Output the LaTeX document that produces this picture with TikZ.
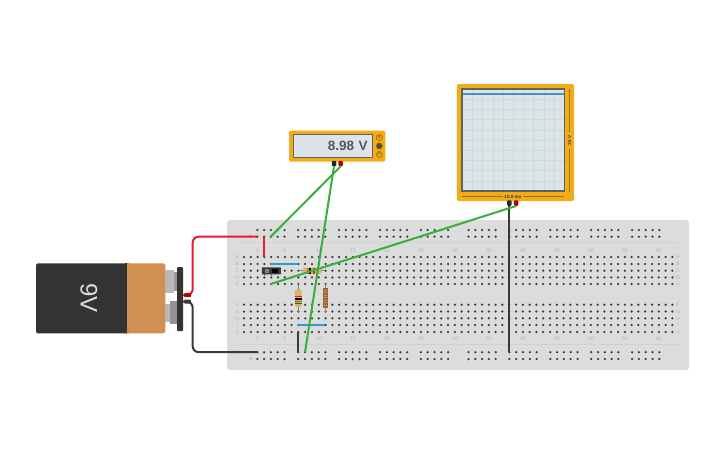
\documentclass[tikz,border=0pt]{standalone}
\usepackage{fontspec}
\setmainfont{Liberation Sans}
\definecolor{boardgray}{HTML}{DCDCDC}
\definecolor{holegray}{HTML}{3C3C3C}
\definecolor{labelgray}{HTML}{B4B4B4}
\definecolor{metalorange}{HTML}{F2AC18}
\definecolor{screenblue}{HTML}{DAE4E9}
\definecolor{gridline}{HTML}{CFDADC}
\definecolor{cellorange}{HTML}{D18F52}
\definecolor{celldark}{HTML}{333333}
\definecolor{wirered}{HTML}{E0202A}
\definecolor{wiregreen}{HTML}{38B040}
\definecolor{wireblue}{HTML}{2E9CD6}
\definecolor{wireblack}{HTML}{3A3A3A}
\definecolor{skin}{HTML}{D9B26C}
\tikzset{
  wire/.style={line width=2pt,rounded corners=6pt},
  hole/.style={fill=holegray,draw=none},
  boardlabel/.style={font=\fontsize{5}{5}\selectfont,text=labelgray,inner sep=0pt},
  probe/.style={minimum width=4.5pt,minimum height=5.5pt,inner sep=0pt,rounded corners=1pt}
}
\newcommand{\railholes}[1]{%
  \foreach \xstart in {257.3,298.2,339.1,380,420.9,468.5,509.4,550.3,591.2,632.1}
    \foreach \k in {0,...,4}
      \fill[hole] ({\xstart+6.8*\k},#1) circle (1.25);%
}
\begin{document}
\begin{tikzpicture}[x=1pt,y=-1pt]
\useasboundingbox (0,0) rectangle (725,453);
% breadboard
\fill[boardgray,rounded corners=3pt] (227,220) rectangle (689,370);
\draw[labelgray!60,line width=.5pt] (238,242.3) -- (678,242.3);
\draw[labelgray!60,line width=.5pt] (238,344.3) -- (678,344.3);
\railholes{230}\railholes{236.7}\railholes{352.2}\railholes{359}
\foreach \y in {257,264,270.7,277.4,284,304.7,311.5,318.3,325,332}
  \foreach \i in {0,...,63}
    \fill[hole] ({244+6.8*\i},\y) circle (1.25);
\foreach \n in {1,5,10,15,...,60}{
  \node[boardlabel] (top\n) at ({244+6.8*(\n+1)},250.7) {\n};
  \node[boardlabel] (bot\n) at ({244+6.8*(\n+1)},339) {\n};
}
\foreach \y/\t in {257/A,264/B,270.7/C,277.4/D,284/E,304.7/F,311.5/G,318.3/H,325/I,332/J}{
  \node[boardlabel] (left\t) at (237.3,\y) {\t};
  \node[boardlabel] (right\t) at (678,\y) {\t};
}
\node[boardlabel,text=wireblue!50,font=\fontsize{9}{9}\selectfont] (railminus) at (250.7,230) {-};
\node[boardlabel,text=wirered!50,font=\fontsize{7}{7}\selectfont] (railplus) at (250.7,236.7) {+};
\node[boardlabel,text=wirered!50,font=\fontsize{7}{7}\selectfont] (railplusb) at (250.7,359) {+};
% battery
\fill[celldark,rounded corners=1.5pt] (36,263.3) rectangle (130,333.3);
\fill[cellorange,rounded corners=1.5pt] (125,263.3) rectangle (165.3,333.3);
\fill[celldark] (125,263.3) rectangle (127,333.3);
\node[rotate=-90,text=boardgray,font=\fontsize{24}{24}\selectfont,inner sep=0pt] (nine) at (89,298.3) {9V};
\fill[gray!55] (165.3,270) rectangle (174,293);
\fill[gray!80] (174,272) rectangle (177,291);
\fill[gray!55] (165.3,304) rectangle (170,322);
\fill[gray!85] (170,300.7) rectangle (177,324);
\node[fill=celldark,rounded corners=1pt,minimum width=6pt,minimum height=64pt,inner sep=0pt] (clip) at (180,299) {};
\coordinate (batplus) at (183,295);
\coordinate (batminus) at (183,301.7);
% jumpers on the board
\coordinate (railred) at (257.3,236.7);
\coordinate (railblack) at (257.3,352.2);
\draw[wire,wirered] (batplus) -- (192.7,295) -- (192.7,236.7) -- (railred);
\draw[wire,wireblack] (batminus) -- (192.7,301.7) -- (192.7,352.2) -- (railblack);
\fill[red!70!black,rounded corners=1pt] (184,293) rectangle (191,297);
\fill[wireblack,rounded corners=1pt] (184,299.7) rectangle (191,303.7);
\coordinate (redtop) at (264.2,236.7);
\coordinate (redbot) at (264.2,257);
\draw[wire,wirered] (redtop) -- (redbot);
\coordinate (bluea) at (270.7,264);
\coordinate (blueb) at (298.2,264);
\draw[wire,wireblue] (bluea) -- (blueb);
\coordinate (bluec) at (298.2,325);
\coordinate (blued) at (325.4,325);
\draw[wire,wireblue] (bluec) -- (blued);
\coordinate (blacka) at (298.2,332);
\coordinate (blackb) at (298.2,352.2);
\draw[wire,wireblack] (blacka) -- (blackb);
% switch
\draw[gray,line width=.8pt] (264.2,270.7) -- (264.2,277.4) (271,270.7) -- (271,277.4);
\node[fill=wireblack,minimum width=19pt,minimum height=7pt,inner sep=0pt,rounded corners=.5pt] (switch) at (271.3,270.8) {};
\fill[black] (272,268.5) rectangle (278,273);
\fill[gray] (265,268.5) rectangle (269,273);
% resistors
\draw[gray,line width=1pt] (298.2,270.7) -- (325.4,270.7);
\fill[skin,rounded corners=2.5pt] (302.7,267.5) rectangle (321.7,274);
\foreach \x/\c in {306.5/brown,309/black,312.5/wirered}
  \fill[\c] (\x,267.5) rectangle ++(2,6.5);
\draw[gray,line width=1pt] (298.2,284) -- (298.2,311.5);
\fill[skin,rounded corners=2.5pt] (294.8,289) rectangle (301.6,307);
\foreach \y/\c in {295.5/wirered,298.2/black,300.8/orange!70!black,302.8/green!50!black}
  \fill[\c] (294.8,\y) rectangle ++(6.8,1.6);
\draw[brown,line width=1pt] (325.4,284) -- (325.4,311.5);
\fill[brown!80!black] (322.5,288) rectangle (328.3,308);
\foreach \y in {289.5,292,...,306}
  \fill[cellorange] (323.5,\y) rectangle ++(3.8,1.2);
% multimeter
\node[fill=metalorange,rounded corners=2pt,minimum width=96.3pt,minimum height=31pt,inner sep=0pt] (meter) at (337.2,146.2) {};
\node[fill=screenblue,draw=wireblack!80,line width=1.2pt,minimum width=79pt,minimum height=23pt,inner sep=0pt,
  align=right,text=wireblack!85,font=\bfseries\fontsize{13.5}{13.5}\selectfont,text width=70pt] (display) at (332.7,146.2) {8.98 V};
\foreach \y/\t in {137.5/A,154.5/R}
  \node[circle,draw=black!45!metalorange,text=black!60!metalorange,line width=.5pt,minimum size=6pt,inner sep=0pt,font=\fontsize{4}{4}\selectfont] (dial\t) at (379.3,\y) {\t};
\node[circle,fill=wireblack!90,draw=black!45!metalorange,line width=.5pt,minimum size=6pt,inner sep=0pt] (dialV) at (379.3,146) {};
\node[probe,fill=black!85] (mblack) at (334,163.5) {};
\node[probe,fill=red!70!black] (mred) at (340.5,163.5) {};
% oscilloscope
\node[fill=metalorange,rounded corners=2pt,minimum width=117.3pt,minimum height=117pt,inner sep=0pt] (scope) at (515.4,142.5) {};
\node[fill=screenblue,minimum width=102pt,minimum height=102pt,inner sep=0pt] (screen) at (513.2,140) {};
\foreach \k in {1,...,9}
  \draw[gridline,line width=.4pt] ({462.2+10.2*\k},89) -- ({462.2+10.2*\k},191);
\foreach \k in {1,...,9}
  \draw[gridline,line width=.4pt] (462.2,{89+10.2*\k}) -- (564.2,{89+10.2*\k});
\draw[wireblue!70!gray,line width=1.2pt] (462.2,94) -- (564.2,94);
\draw[wireblack!80,line width=1.5pt] (screen.south west) rectangle (screen.north east);
\node[text=wireblack,font=\bfseries\fontsize{4.6}{4.6}\selectfont,inner sep=0pt] (timetxt) at (512.9,196.5) {10.0 ms};
\node[rotate=90,text=wireblack,font=\bfseries\fontsize{4.6}{4.6}\selectfont,inner sep=0pt] (volttxt) at (569.5,140.5) {36 V};
\draw[black!35!metalorange,line width=.4pt] (461.5,196.5) -- (503,196.5) (523,196.5) -- (564,196.5);
\draw[black!35!metalorange,line width=.4pt] (569.5,89.3) -- (569.5,132) (569.5,149) -- (569.5,192);
\node[probe,fill=black!85] (sblack) at (509.3,203) {};
\node[probe,fill=red!70!black] (sred) at (516.2,203) {};
% long wires
\coordinate (railgreen) at (270.7,236.7);
\coordinate (rowe) at (270.7,284);
\coordinate (railgreenb) at (305,352.2);
\coordinate (railscope) at (509.3,352.2);
\draw[wire,wireblack] (sblack.south) -- (railscope);
\draw[wire,wiregreen] (railgreen) -- (mred.south);
\draw[wire,wiregreen] (railgreenb) -- (mblack.south);
\draw[wire,wiregreen] (rowe) -- (sred.south);
\end{tikzpicture}
\end{document}
